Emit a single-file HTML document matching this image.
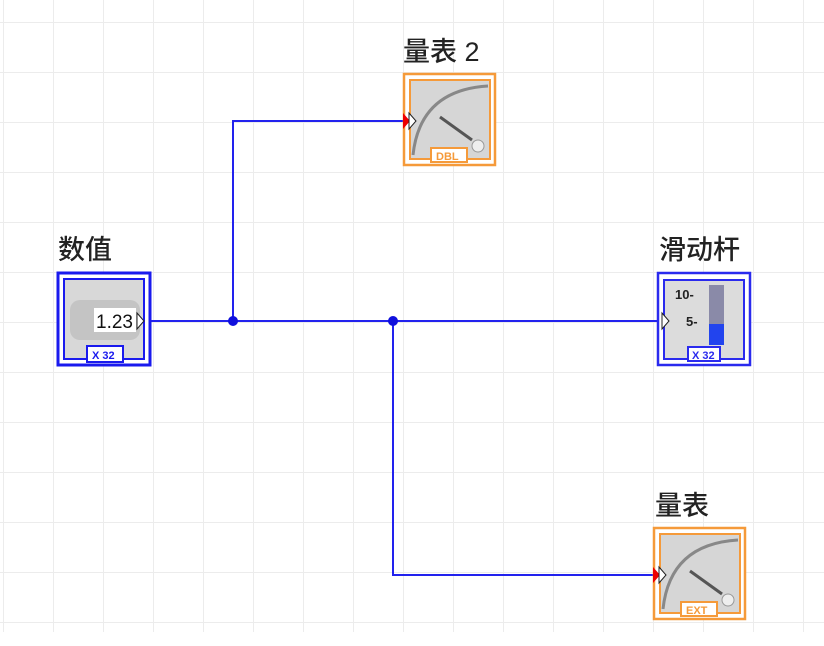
<!DOCTYPE html>
<html><head><meta charset="utf-8"><style>
body{margin:0;width:824px;height:646px;background:#fff;position:relative;overflow:hidden;font-family:"Liberation Sans","Noto Sans CJK SC",sans-serif}
.grid{position:absolute;left:0;top:0;width:824px;height:632px;
background-image:linear-gradient(#ececec 1px,transparent 1px),linear-gradient(90deg,#ececec 1px,transparent 1px);
background-size:50px 50px;background-position:3px 22px}
.lbl{position:absolute;font-size:27px;color:#222;font-weight:500}
.box{position:absolute;box-sizing:border-box}
</style></head><body>
<div class="grid"></div>
<div class="lbl" style="left:58px;top:228px">数值</div>
<div class="lbl" style="left:403px;top:30px">量表 2</div>
<div class="lbl" style="left:659px;top:228px">滑动杆</div>
<div class="lbl" style="left:655px;top:484px">量表</div>
<svg width="824" height="646" style="position:absolute;left:0;top:0">
<g stroke="#2222ee" stroke-width="2" fill="none">
<path d="M151 321H657M233 321V121H403M393 321V575H653"/>
</g>
<circle cx="233" cy="321" r="5" fill="#1010dd"/>
<circle cx="393" cy="321" r="5" fill="#1010dd"/>
<!-- numeric -->
<rect x="58" y="273" width="92" height="92" fill="#fff" stroke="#1a1aee" stroke-width="3"/>
<rect x="64" y="279" width="80" height="80" fill="#d8d8d8" stroke="#1a1aee" stroke-width="2"/>
<rect x="70" y="300" width="70" height="40" rx="10" fill="#c4c4c4"/>
<rect x="94" y="308" width="42" height="24" fill="#fff"/>
<text x="96" y="328" font-size="19" fill="#111" font-family="Liberation Sans">1.23</text>
<path d="M137 313l7 8-7 8z" fill="#fff" stroke="#222"/>
<rect x="87" y="346" width="36" height="16" fill="#fff" stroke="#1a1aee" stroke-width="2"/>
<text x="92" y="359" font-size="11" fill="#1a1aee" font-weight="bold">X 32</text>
<!-- gauge2 -->
<rect x="404" y="74" width="91" height="91" fill="#fff" stroke="#f59a3a" stroke-width="2.5"/>
<rect x="410" y="80" width="80" height="79" fill="#d6d6d6" stroke="#f59a3a" stroke-width="2"/>
<path d="M413 155Q420 90 488 86" stroke="#888" stroke-width="3" fill="none"/>
<line x1="440" y1="117" x2="472" y2="140" stroke="#555" stroke-width="3"/>
<circle cx="478" cy="146" r="6" fill="#eee" stroke="#999"/>
<rect x="431" y="148" width="36" height="14" fill="#fff" stroke="#f59a3a" stroke-width="2"/>
<text x="436" y="160" font-size="11" fill="#f59a3a" font-weight="bold">DBL</text>
<path d="M403 113l7 8-7 8z" fill="#e00"/><path d="M409 113l7 8-7 8z" fill="#fff" stroke="#222"/>
<!-- slider -->
<rect x="658" y="273" width="92" height="92" fill="#fff" stroke="#2a2aee" stroke-width="2.5"/>
<rect x="664" y="280" width="80" height="79" fill="#dcdcdc" stroke="#2a2aee" stroke-width="2"/>
<rect x="709" y="285" width="15" height="60" fill="#8a8aa8"/>
<rect x="709" y="324" width="15" height="21" fill="#2244ee"/>
<text x="675" y="299" font-size="13" font-weight="bold" fill="#222">10-</text>
<text x="686" y="326" font-size="13" font-weight="bold" fill="#222">5-</text>
<path d="M662 313l7 8-7 8z" fill="#fff" stroke="#222"/>
<rect x="688" y="347" width="32" height="14" fill="#fff" stroke="#2a2aee" stroke-width="2"/>
<text x="692" y="359" font-size="11" fill="#2a2aee" font-weight="bold">X 32</text>
<!-- gauge -->
<rect x="654" y="528" width="91" height="91" fill="#fff" stroke="#f59a3a" stroke-width="2.5"/>
<rect x="660" y="534" width="80" height="79" fill="#d6d6d6" stroke="#f59a3a" stroke-width="2"/>
<path d="M663 609Q670 544 738 540" stroke="#888" stroke-width="3" fill="none"/>
<line x1="690" y1="571" x2="722" y2="594" stroke="#555" stroke-width="3"/>
<circle cx="728" cy="600" r="6" fill="#eee" stroke="#999"/>
<rect x="681" y="602" width="36" height="14" fill="#fff" stroke="#f59a3a" stroke-width="2"/>
<text x="686" y="614" font-size="11" fill="#f59a3a" font-weight="bold">EXT</text>
<path d="M653 567l7 8-7 8z" fill="#e00"/><path d="M659 567l7 8-7 8z" fill="#fff" stroke="#222"/>
</svg>
</body></html>
